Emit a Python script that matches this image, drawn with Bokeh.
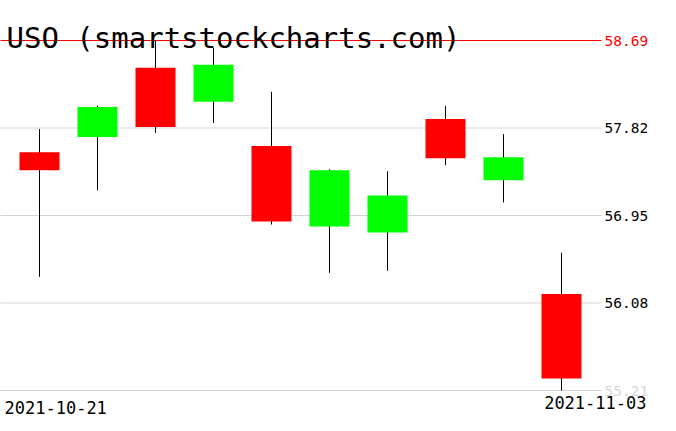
from bokeh.plotting import figure
from bokeh.models import Range1d
from bokeh.core.properties import value
from bokeh.embed import file_html
from bokeh.resources import INLINE

# ---- data ----
title_text = "USO (smartstockcharts.com)"
dates = ["2021-10-21", "2021-10-22", "2021-10-25", "2021-10-26", "2021-10-27",
         "2021-10-28", "2021-10-29", "2021-11-01", "2021-11-02", "2021-11-03"]
opens = [57.58, 57.73, 58.42, 58.08, 57.64, 56.84, 56.78, 57.91, 57.30, 56.17]
highs = [57.81, 58.04, 58.69, 58.62, 58.18, 57.41, 57.39, 58.04, 57.76, 56.58]
lows = [56.34, 57.20, 57.77, 57.87, 56.86, 56.38, 56.40, 57.45, 57.08, 55.21]
closes = [57.40, 58.03, 57.83, 58.45, 56.89, 57.40, 57.15, 57.52, 57.53, 55.33]
tick_values = [55.21, 56.08, 56.95, 57.82, 58.69]
tick_labels = ["55.21", "56.08", "56.95", "57.82", "58.69"]

# ---- layout helpers (picture pixel -> data) ----
W, H = 668, 423
SLOT = 58.0          # px per candle
X0 = 39.0            # px centre of first candle
TOP_PX = 40.0        # px of highest tick line
PXU = 87.5 / (tick_values[1] - tick_values[0])


def xd(px):
    return (px - X0) / SLOT


def yd(py):
    return tick_values[-1] - (py - TOP_PX) / PXU


p = figure(width=W, height=H, output_backend="svg", toolbar_location=None,
           x_range=Range1d(xd(0), xd(W)),
           y_range=Range1d(yd(H), yd(0)),
           x_axis_location=None, y_axis_location=None,
           min_border=0, outline_line_color=None)
p.grid.visible = False
p.background_fill_color = "white"
p.border_fill_color = "white"

n = len(dates)
idx = list(range(n))

# grid lines
grid_colors = []
for i, t in enumerate(tick_values):
    grid_colors.append("#ff0000" if i == len(tick_values) - 1 else "#d3d3d3")
p.segment(x0=[xd(-2)] * len(tick_values), x1=[xd(601)] * len(tick_values),
          y0=tick_values, y1=tick_values, line_color=grid_colors, line_width=1)

# wicks
p.segment(x0=idx, x1=idx, y0=lows, y1=highs, line_color="black", line_width=1)

# bodies
tops = [max(o, c) for o, c in zip(opens, closes)]
bots = [min(o, c) for o, c in zip(opens, closes)]
body_colors = ["#ff0000" if c < o else "#00ff00" for o, c in zip(opens, closes)]
p.vbar(x=idx, width=0.69, top=tops, bottom=bots, fill_color=body_colors,
       line_color=None)

# tick labels
tick_colors = []
for i in range(len(tick_values)):
    if i == len(tick_values) - 1:
        tick_colors.append("#ff0000")
    elif i == 0:
        tick_colors.append("#d8d8d8")
    else:
        tick_colors.append("#000000")
p.text(x=[xd(604)] * len(tick_values), y=tick_values, text=tick_labels,
       text_color=tick_colors, text_font=value("DejaVu Sans Mono"),
       text_font_size="14.5px", text_align="left", text_baseline="alphabetic")

# date labels
p.text(x=[xd(4)], y=[yd(407)], text=[dates[0]], text_color="black",
       text_font=value("DejaVu Sans Mono"), text_font_size="17px",
       text_align="left", text_baseline="alphabetic")
p.text(x=[xd(646)], y=[yd(401.5)], text=[dates[-1]], text_color="black",
       text_font=value("DejaVu Sans Mono"), text_font_size="17px",
       text_align="right", text_baseline="alphabetic")

# title
p.text(x=[xd(6)], y=[yd(37)], text=[title_text], text_color="black",
       text_font=value("DejaVu Sans Mono"), text_font_size="29px",
       text_align="left", text_baseline="alphabetic")

open("out.html", "w").write(file_html(p, INLINE))
